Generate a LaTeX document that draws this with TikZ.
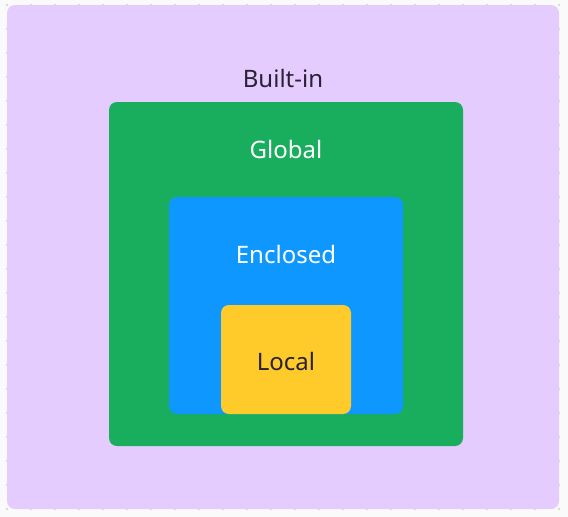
\documentclass[tikz,border=0pt]{standalone}
\usepackage{fontspec}
\setmainfont{Noto Sans}
\usetikzlibrary{positioning}

\definecolor{pagebg}{HTML}{FAFAFA}
\definecolor{dotgray}{HTML}{D8D8D8}
\definecolor{builtinfill}{HTML}{E4CCFF}
\definecolor{globalfill}{HTML}{18AE5D}
\definecolor{enclosedfill}{HTML}{0E98FF}
\definecolor{localfill}{HTML}{FFCB2B}
\definecolor{darktext}{HTML}{2B2135}

\begin{document}
\begin{tikzpicture}[
    x=1pt, y=-1pt,
    font=\fontsize{24}{28}\selectfont,
    zone/.style={draw=none, rounded corners=8pt, inner sep=0pt},
    zonelabel/.style={inner sep=0pt, anchor=center},
  ]
    % canvas with dot grid
    \fill[pagebg] (0,0) rectangle (568,517);
    \foreach \i in {0,...,23}
      \foreach \j in {0,...,21}
        \fill[dotgray] (7+24*\i, 5+24*\j) circle (1.3pt);

    % nested scopes
    \node[zone, fill=builtinfill, minimum width=552pt, minimum height=504pt] (builtin) at (283,257) {};
    \node[zone, fill=globalfill, minimum width=354pt, minimum height=344pt] (global) at (286,274) {};
    \node[zone, fill=enclosedfill, minimum width=234pt, minimum height=217pt] (enclosed) at (286,305.5) {};
    \node[zone, fill=localfill, minimum width=130pt, minimum height=109pt] (local) at (286,359.5) {};

    \node[zonelabel, text=darktext] (builtintext) at (283,78) {Built-in};
    \node[zonelabel, text=white] (globaltext) at (286,149) {Global};
    \node[zonelabel, text=white] (enclosedtext) at (286,254) {Enclosed};
    \node[zonelabel, text=darktext] (localtext) at (286,361) {Local};
  \end{tikzpicture}
\end{document}
